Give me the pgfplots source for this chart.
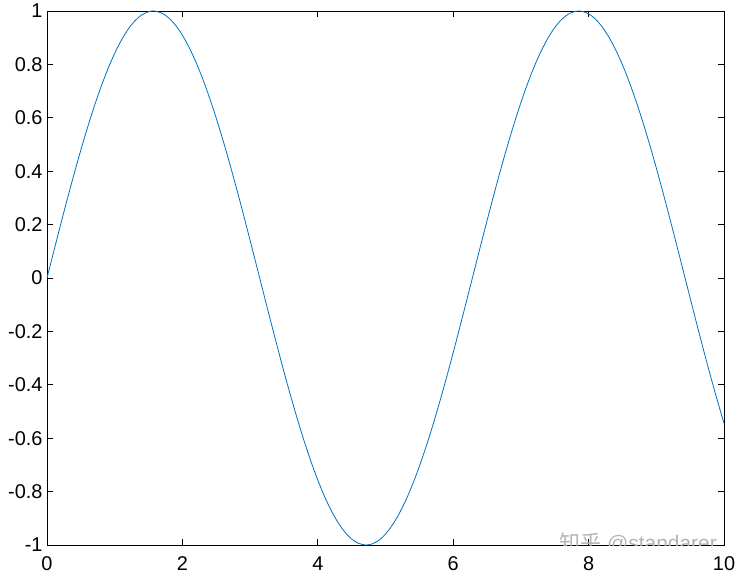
\documentclass[border=0pt]{standalone}
\usepackage{pgfplots}
\pgfplotsset{compat=1.18}
\usepackage{fontspec}
\setmainfont{Liberation Sans}
\newfontfamily\cjk{Noto Sans CJK SC}
\definecolor{mblue}{rgb}{0,0.447,0.741}
\begin{document}
\begin{tikzpicture}
\begin{axis}[
  scale only axis,
  width=677bp, height=534bp,
  xmin=0, xmax=10, ymin=-1, ymax=1,
  xtick={0,2,4,6,8,10},
  xticklabels={0,2,4,6,8,10},
  ytick={-1,-0.8,-0.6,-0.4,-0.2,0,0.2,0.4,0.6,0.8,1},
  yticklabels={-1,-0.8,-0.6,-0.4,-0.2,0,0.2,0.4,0.6,0.8,1},
  tick align=inside,
  major tick length=6.5bp,
  tick style={black, line width=0.75bp},
  axis line style={black, line width=0.75bp},
  tick label style={font=\fontsize{20}{24}\selectfont},
  yticklabel style={xshift=-1bp},
  xticklabel style={inner sep=0pt, yshift=-11.5bp},
]
\addplot[mblue, line width=0.8bp, smooth] coordinates {
(0,0) (0.1,0.0998) (0.2,0.1987) (0.3,0.2955) (0.4,0.3894) (0.5,0.4794)
(0.6,0.5646) (0.7,0.6442) (0.8,0.7174) (0.9,0.7833) (1.0,0.8415)
(1.1,0.8912) (1.2,0.9320) (1.3,0.9636) (1.4,0.9854) (1.5,0.9975)
(1.5708,1) (1.6,0.9996) (1.7,0.9917) (1.8,0.9738) (1.9,0.9463) (2.0,0.9093)
(2.1,0.8632) (2.2,0.8085) (2.3,0.7457) (2.4,0.6755) (2.5,0.5985)
(2.6,0.5155) (2.7,0.4274) (2.8,0.3350) (2.9,0.2392) (3.0,0.1411)
(3.1,0.0416) (3.2,-0.0584) (3.3,-0.1577) (3.4,-0.2555) (3.5,-0.3508)
(3.6,-0.4425) (3.7,-0.5298) (3.8,-0.6119) (3.9,-0.6878) (4.0,-0.7568)
(4.1,-0.8183) (4.2,-0.8716) (4.3,-0.9162) (4.4,-0.9516) (4.5,-0.9775)
(4.6,-0.9937) (4.7,-0.9999) (4.7124,-1) (4.8,-0.9962) (4.9,-0.9825) (5.0,-0.9589)
(5.1,-0.9258) (5.2,-0.8835) (5.3,-0.8323) (5.4,-0.7728) (5.5,-0.7055)
(5.6,-0.6313) (5.7,-0.5507) (5.8,-0.4646) (5.9,-0.3739) (6.0,-0.2794)
(6.1,-0.1822) (6.2,-0.0831) (6.3,0.0168) (6.4,0.1165) (6.5,0.2151)
(6.6,0.3115) (6.7,0.4048) (6.8,0.4941) (6.9,0.5784) (7.0,0.6570)
(7.1,0.7290) (7.2,0.7937) (7.3,0.8504) (7.4,0.8987) (7.5,0.9380)
(7.6,0.9679) (7.7,0.9882) (7.8,0.9985) (7.854,1) (7.9,0.9989) (8.0,0.9894)
(8.1,0.9699) (8.2,0.9407) (8.3,0.9022) (8.4,0.8546) (8.5,0.7985)
(8.6,0.7344) (8.7,0.6630) (8.8,0.5849) (8.9,0.5010) (9.0,0.4121)
(9.1,0.3191) (9.2,0.2229) (9.3,0.1245) (9.4,0.0248) (9.5,-0.0752)
(9.6,-0.1743) (9.7,-0.2718) (9.8,-0.3665) (9.9,-0.4575) (10.0,-0.5440)
};
\node[anchor=base east, text=black!30, font=\fontsize{21}{24}\selectfont, inner sep=0pt]
  at ([xshift=-7bp,yshift=-5.5bp]rel axis cs:1,0) {{\cjk 知乎} @standarer};
\end{axis}
\pgfresetboundingbox
\path[use as bounding box] ([xshift=-47bp,yshift=-34bp]current axis.south west) rectangle ([xshift=15bp,yshift=11bp]current axis.north east);
\end{tikzpicture}
\end{document}
